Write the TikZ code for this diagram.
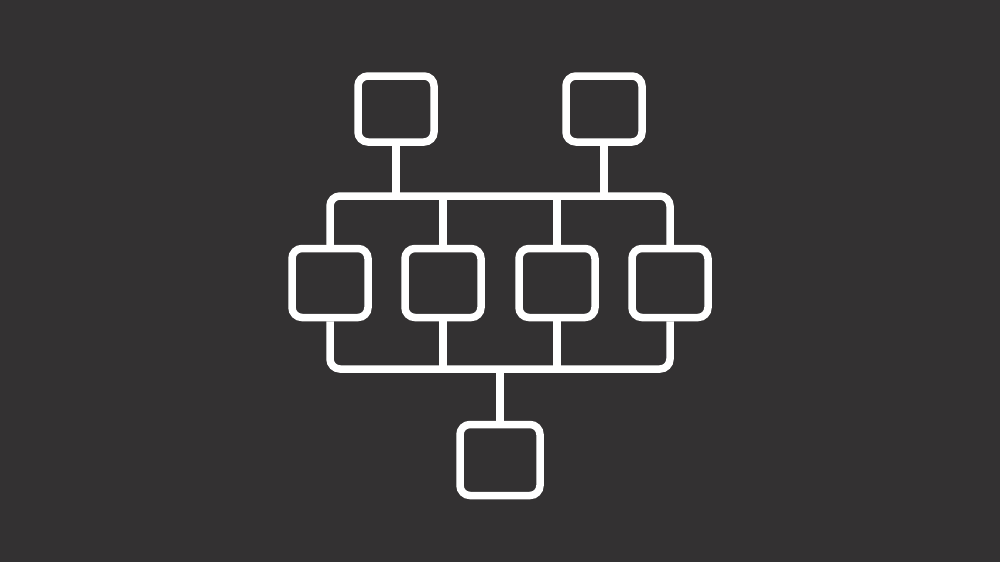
\documentclass[tikz,border=0pt]{standalone}
\definecolor{bg}{RGB}{51,49,50}
\begin{document}
\begin{tikzpicture}[
     box/.style={rectangle,draw=white,fill=bg,line width=0.075cm,rounded corners=0.1cm,inner sep=0pt,minimum width=0.76cm,minimum height=0.69cm},
     link/.style={draw=white,line width=0.075cm,rounded corners=0.1cm}
   ]
   \fill[bg] (0,0) rectangle (10,5.62);
   % Boxes.
   \node[box,minimum height=0.66cm] (top1) at (3.96,4.53) {};
   \node[box,minimum height=0.66cm] (top2) at (6.04,4.53) {};
   \node[box] (mid1) at (3.30,2.79) {};
   \node[box] (mid2) at (4.43,2.79) {};
   \node[box] (mid3) at (5.57,2.79) {};
   \node[box] (mid4) at (6.70,2.79) {};
   \node[box,minimum width=0.80cm,minimum height=0.71cm] (bot) at (5.00,1.02) {};
   % Frame corners.
   \coordinate (ftop) at (6.70,3.66);
   \coordinate (fbot) at (6.70,1.93);
   % Frame and links.
   \path[link] (mid1.north) |- (ftop) -- (mid4.north);
   \path[link] (mid1.south) |- (fbot) -- (mid4.south);
   \path[link] (mid2.north) -- (mid2.north |- ftop);
   \path[link] (mid3.north) -- (mid3.north |- ftop);
   \path[link] (mid2.south) -- (mid2.south |- fbot);
   \path[link] (mid3.south) -- (mid3.south |- fbot);
   \path[link] (top1.south) -- (top1.south |- ftop);
   \path[link] (top2.south) -- (top2.south |- ftop);
   \path[link] (bot.north) -- (bot.north |- fbot);
 \end{tikzpicture}
\end{document}
